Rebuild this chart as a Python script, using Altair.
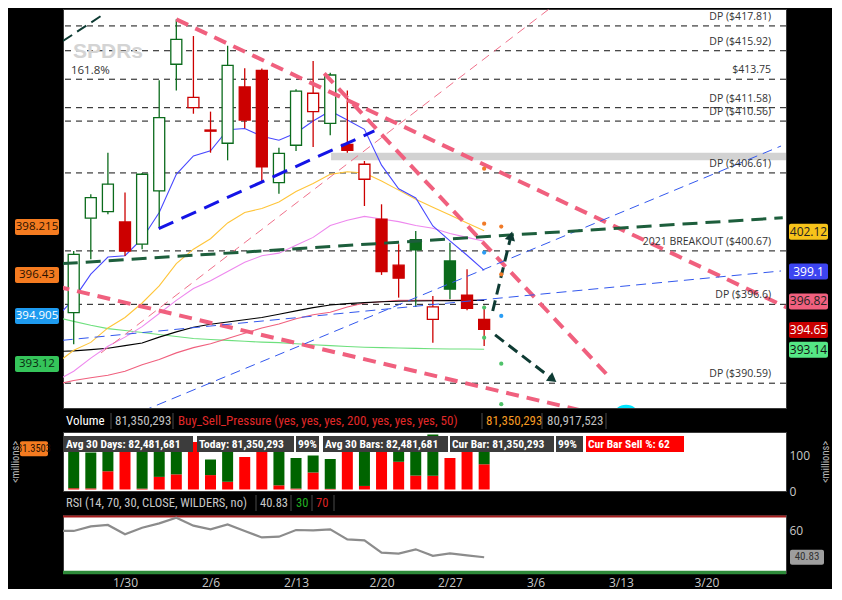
import altair as alt
import pandas as pd

# ---------------- data ----------------
dates = ["1/25", "1/26", "1/27", "1/30", "1/31", "2/1", "2/2", "2/3", "2/6", "2/7", "2/8", "2/9", "2/10",
         "2/13", "2/14", "2/15", "2/16", "2/17", "2/21", "2/22", "2/23", "2/24", "2/27", "2/28", "3/1"]
opens = [395.96, 403.16, 403.66, 402.87, 401.18, 405.24, 414.89, 411.58, 409.79, 408.87, 413.16, 414.42, 405.87,
         408.72, 411.28, 410.39, 408.79, 406.13, 403.08, 399.58, 401.53, 395.46, 399.90, 397.29, 395.46]
highs = [400.66, 404.98, 408.15, 405.11, 406.60, 413.67, 418.31, 417.04, 411.28, 416.30, 414.58, 414.57, 408.53,
         412.98, 415.14, 414.25, 412.90, 407.52, 404.22, 401.18, 402.19, 397.24, 401.30, 399.27, 396.50]
lows = [393.56, 400.03, 403.46, 400.28, 400.79, 402.44, 412.90, 411.12, 408.15, 407.57, 410.01, 405.87, 405.03,
        408.28, 408.59, 409.48, 408.15, 404.09, 398.84, 397.11, 396.40, 393.68, 396.98, 396.15, 393.43]
closes = [400.41, 404.73, 405.75, 400.66, 406.51, 410.82, 416.79, 412.37, 409.88, 414.81, 410.64, 407.08, 408.10,
          412.85, 412.68, 414.07, 408.33, 407.27, 399.09, 398.59, 400.74, 396.40, 397.75, 396.30, 394.70]

volumes_m = [84, 74, 76, 80, 87, 101, 101, 95, 60, 91, 65, 79, 76, 63, 68, 61, 84, 89, 83, 84, 96, 110, 63, 83, 81.35]
sell_pct = [3, 3, 48, 100, 2, 25, 30, 100, 48, 17, 100, 100, 11, 3, 50, 2, 100, 8, 100, 66, 29, 25, 100, 100, 62]

# indicator series: first value is the left edge (index -1), then one per bar
ema_fast = [395.6, 397.0, 398.9, 400.2, 400.3, 401.6, 403.6, 406.5, 407.9, 408.3, 409.9, 410.0, 409.4, 409.1,
            409.65, 410.57, 411.33, 410.64, 409.93, 407.2, 405.4, 404.7, 402.57, 401.43, 400.34, 399.19]
ema_yellow = [392.1, 393.1, 393.7, 394.8, 395.6, 396.7, 398.0, 399.7, 400.8, 401.6, 402.8, 403.6, 403.9, 404.4,
              405.2, 405.8, 406.5, 406.7, 406.6, 406.0, 405.3, 404.6, 404.0, 403.4, 402.8, 402.2]
ema_violet = [390.8, 391.5, 392.5, 393.4, 394.1, 394.9, 395.9, 396.9, 397.8, 398.4, 399.1, 399.8, 400.3, 400.5,
              401.1, 401.7, 402.6, 403.0, 403.3, 403.1, 402.9, 402.6, 402.4, 402.0, 401.7, 401.4]
ema_pink = [390.5, 390.8, 391.0, 391.2, 391.5, 392.0, 392.4, 392.9, 393.3, 393.6, 394.0, 394.4, 394.8, 395.1,
            395.5, 395.8, 396.0, 396.4, 396.7, 396.8, 396.9, 396.9, 396.9, 396.9, 396.9, 396.9]
sma_black = [393.0, 393.05, 393.15, 393.25, 393.45, 393.65, 394.1, 394.5, 394.85, 395.08, 395.25, 395.42, 395.6,
             395.84, 396.1, 396.35, 396.55, 396.65, 396.73, 396.8, 396.83, 396.85, 396.87, 396.88, 396.9, 396.9]
sma_green = [395.6, 395.3, 395.0, 394.75, 394.6, 394.45, 394.3, 394.15, 394.0, 393.92, 393.85, 393.78, 393.72,
             393.68, 393.6, 393.52, 393.45, 393.38, 393.33, 393.3, 393.27, 393.24, 393.22, 393.2, 393.19, 393.18]
rsi = [59.6, 59.6, 62.9, 63.9, 57.2, 61.9, 65.0, 69.1, 63.4, 60.8, 64.3, 59.6, 55.0, 55.5, 60.3, 60.0, 60.8,
       53.6, 52.9, 44.1, 43.4, 46.5, 41.9, 43.6, 42.2, 40.83]

dp_levels = [417.81, 415.92, 413.75, 411.58, 410.56, 406.61, 400.67, 396.6, 390.59]
dp_labels = ["DP ($417.81)", "DP ($415.92)", "$413.75", "DP ($411.58)", "DP ($410.56)", "DP ($406.61)",
             "2021 BREAKOUT ($400.67)", "DP ($396.6)", "DP ($390.59)"]

# drawn trend lines: name, start index, start price, end index, end price
trend_lines = [
    ("pink_top", 6.0, 418.31, 42.0, 396.17),
    ("pink_steep", 14.65, 414.2, 31.25, 391.15),
    ("pink_low", -1.0, 397.97, 31.0, 388.1),
    ("pink_thin", 1.6, 392.9, 29.0, 420.3),
    ("blue_thick", 4.97, 402.36, 17.58, 409.81),
    ("blue_steep", 4.0, 388.45, 41.36, 408.66),
    ("blue_flat", -0.64, 393.86, 41.36, 399.14),
    ("green_2021", -0.64, 399.70, 41.46, 403.20),
    ("arrow_up", 24.5, 396.09, 25.57, 401.81),
    ("arrow_down", 24.64, 394.27, 28.01, 390.89),
    ("arrow_old", -0.63, 416.66, 1.77, 418.72),
]

gray_zone = (15.05, 42.0, 407.57, 408.15)

proj_i = [24, 24, 24, 24, 24, 25, 25, 25, 25, 25]
proj_p = [406.93, 402.74, 400.54, 396.35, 394.06, 402.52, 398.89, 395.71, 392.08, 388.99]
proj_kind = ["o", "o", "b", "g", "g", "o", "o", "b", "g", "g"]

right_tags = [402.12, 399.1, 396.82, 394.65, 393.14]
right_tag_text = ["402.12", "399.1", "396.82", "394.65", "393.14"]
left_tags = [398.215, 396.43, 394.905, 393.12]
left_tag_text = ["398.215", "396.43", "394.905", "393.12"]

tick_idx = [3, 8, 13, 18, 22, 27, 32, 37]
tick_labels = ["1/30", "2/6", "2/13", "2/20", "2/27", "3/6", "3/13", "3/20"]

vol_boxes = ["Avg 30 Days: 82,481,681", "Today: 81,350,293", "99%", "Avg 30 Bars: 82,481,681",
             "Cur Bar: 81,350,293", "99%", "Cur Bar Sell %: 62"]
vol_header = ["Volume", "81,350,293", "Buy_Sell_Pressure (yes, yes, yes, 200, yes, yes, yes, 50)",
              "81,350,293", "80,917,523"]
rsi_header = ["RSI (14, 70, 30, CLOSE, WILDERS, no)", "40.83", "30", "70"]

# ---------------- styles / layout ----------------
FONT = "Open Sans"
NARROW = "Roboto Condensed, Noto Sans Condensed, Noto Sans CJK SC, Roboto, sans-serif"
GREEN = "#0b6b1c"
RED = "#cc0000"
W = 723


def lin(lo, hi):
    return alt.Scale(domain=[lo, hi], nice=False, zero=False, padding=0)


xS = lin(-0.626, 41.65)
yR = lin(388.70, 419.10)
yL = lin(391.478, 406.335)
vS = lin(-3, 115)
vS2 = lin(0, 166.7)
rS = lin(29.6, 71)

X = alt.X("i:Q", scale=xS, axis=None)


def one():
    return pd.DataFrame({"a": [0]})


def ptext(txt, x, y, color, size=12, align="left", weight="normal", font=FONT, angle=0, baseline="middle"):
    return alt.Chart(pd.DataFrame({"t": [txt]})).mark_text(
        align=align, baseline=baseline, color=color, fontSize=size, fontWeight=weight, font=font, angle=angle
    ).encode(x=alt.value(x), y=alt.value(y), text="t:N")


def prect(x0, x1, y0, y1, color):
    return alt.Chart(one()).mark_rect(color=color).encode(
        x=alt.value(x0), x2=alt.value(x1), y=alt.value(y0), y2=alt.value(y1))


def prule(x0, x1, y0, y1, color, width=1):
    return alt.Chart(one()).mark_rule(color=color, strokeWidth=width).encode(
        x=alt.value(x0), x2=alt.value(x1), y=alt.value(y0), y2=alt.value(y1))


def tag_boxes(df, field, scale, x0, x1, height, axis=None, color_field="bg:N", color=None):
    mk = alt.Chart(df).mark_bar(orient="horizontal", size=height, cornerRadius=2,
                                **({"color": color} if color else {}))
    enc = dict(x=alt.value(x0), x2=alt.value(x1), y=alt.Y(field, scale=scale, axis=axis))
    if not color:
        enc["color"] = alt.Color(color_field, scale=None)
    return mk.encode(**enc)


# ---------------- price panel ----------------
N = len(dates)
col = [GREEN if (k == 0 or closes[k] >= closes[k - 1]) else RED for k in range(N)]
cdf = pd.DataFrame({"i": list(range(N)), "o": opens, "h": highs, "l": lows, "c": closes, "col": col})
cdf["fillc"] = ["#ffffff" if c > o else cc for o, c, cc in zip(opens, closes, col)]

right_axis_vals = [390, 392.5, 397.5, 400, 405, 407.5, 410, 412.5, 415, 417.5]
dp_df = pd.DataFrame({"p": dp_levels, "lab": dp_labels})
dp_rules = alt.Chart(dp_df).mark_rule(color="#111111", strokeWidth=1, strokeDash=[6, 5]).encode(
    y=alt.Y("p:Q", scale=yR, axis=alt.Axis(orient="right", values=right_axis_vals,
                                            format=".1~f", labelPadding=3, title=None)))

band = alt.Chart(pd.DataFrame({"i0": [gray_zone[0]], "i1": [gray_zone[1]], "p0": [gray_zone[2]],
                               "p1": [gray_zone[3]]})).mark_rect(color="#d2d2d2", clip=True).encode(
    x=alt.X("i0:Q", scale=xS, axis=None), x2="i1:Q", y=alt.Y("p0:Q", scale=yR, axis=None), y2="p1:Q")

ind_i = list(range(-1, N))
rows = []
for name, vals, c in [("green", sma_green, "#6ee07e"), ("pink", ema_pink, "#f0607e"),
                      ("black", sma_black, "#000000"), ("violet", ema_violet, "#ee88ee"),
                      ("yellow", ema_yellow, "#ffc53a"), ("fast", ema_fast, "#4848ff")]:
    for i, v in zip(ind_i, vals):
        rows.append({"s": name, "i": i, "p": v, "col": c})
ind_df = pd.DataFrame(rows)
ind_lines = alt.Chart(ind_df).mark_line(strokeWidth=1.1, clip=True).encode(
    x=X, y=alt.Y("p:Q", scale=yR, axis=None), detail="s:N", color=alt.Color("col:N", scale=None))

wicks = alt.Chart(cdf).mark_rule(strokeWidth=1.3).encode(
    x=X, y=alt.Y("l:Q", scale=yR, axis=None), y2="h:Q", color=alt.Color("col:N", scale=None))
bodies = alt.Chart(cdf).mark_bar(size=11, strokeWidth=1.3).encode(
    x=X, y=alt.Y("o:Q", scale=yR, axis=None), y2="c:Q",
    fill=alt.Fill("fillc:N", scale=None), stroke=alt.Stroke("col:N", scale=None))

trend_style = {
    "pink_top": ("#f0607e", 4, [13, 8]), "pink_steep": ("#f0607e", 4, [13, 8]),
    "pink_low": ("#f0607e", 4, [13, 8]), "pink_thin": ("#f0708a", 1, [9, 6]),
    "blue_thick": ("#1414e6", 3, [16, 9]), "blue_steep": ("#3358ee", 1, [10, 6]),
    "blue_flat": ("#3358ee", 1, [10, 6]), "green_2021": ("#1d5e3c", 3, [15, 8]),
    "arrow_up": ("#0e3b33", 3, [11, 6]), "arrow_down": ("#0e3b33", 3, [11, 6]),
    "arrow_old": ("#0e3b33", 2, [11, 6]),
}
trend_layers = []
for name, i0, p0, i1, p1 in trend_lines:
    c, w, d = trend_style[name]
    tdf = pd.DataFrame({"i": [i0, i1], "p": [p0, p1]})
    trend_layers.append(alt.Chart(tdf).mark_line(color=c, strokeWidth=w, strokeDash=d, clip=True).encode(
        x=X, y=alt.Y("p:Q", scale=yR, axis=None)))

heads = []
for name, ang in [("arrow_up", 14), ("arrow_down", 127)]:
    t = [r for r in trend_lines if r[0] == name][0]
    hdf = pd.DataFrame({"i": [t[3]], "p": [t[4]]})
    heads.append(alt.Chart(hdf).mark_point(shape="triangle-up", filled=True, size=110, opacity=1,
                                           color="#0e3b33", angle=ang).encode(
        x=X, y=alt.Y("p:Q", scale=yR, axis=None)))

kind_col = {"o": "#f07a28", "b": "#2a9df4", "g": "#4fc26a"}
proj_df = pd.DataFrame({"i": proj_i, "p": proj_p, "col": [kind_col[k] for k in proj_kind]})
dots = alt.Chart(proj_df).mark_circle(size=18, opacity=1, clip=True).encode(
    x=X, y=alt.Y("p:Q", scale=yR, axis=None), color=alt.Color("col:N", scale=None))

dp_text = alt.Chart(dp_df).mark_text(align="right", baseline="middle", dy=-9, fontSize=10.5, font=FONT,
                                     color="#333333").encode(
    x=alt.value(708), y=alt.Y("p:Q", scale=yR, axis=None), text="lab:N")

fib = alt.Chart(pd.DataFrame({"i": [-0.16], "p": [414.35], "t": ["161.8%"]})).mark_text(
    align="left", baseline="middle", fontSize=11.5, font=FONT, color="#333333").encode(
    x=X, y=alt.Y("p:Q", scale=yR, axis=None), text="t:N")
spdr = ptext("SPDRs", 10, 43, "#d4d4d4", size=21, weight="bold", font="Liberation Sans")

blob = alt.Chart(pd.DataFrame({"i": [32.3], "p": [387.87]})).mark_circle(
    size=800, color="#00e5ff", opacity=1, clip=True).encode(x=X, y=alt.Y("p:Q", scale=yR, axis=None))

rt_df = pd.DataFrame({"p": right_tags, "t": right_tag_text,
                      "bg": ["#f7c31a", "#3d45f0", "#f0607e", "#c80000", "#55e685"],
                      "fg": ["#222222", "#ffffff", "#222222", "#ffffff", "#111111"]})
rt_box = tag_boxes(rt_df, "p:Q", yR, 726, 765, 16)
rt_text = alt.Chart(rt_df).mark_text(fontSize=12, font=FONT, baseline="middle").encode(
    x=alt.value(745.5), y=alt.Y("p:Q", scale=yR, axis=None), text="t:N", color=alt.Color("fg:N", scale=None))

right_layer = alt.layer(dp_rules, band, ind_lines, wicks, bodies, *trend_layers, *heads, dots, dp_text, fib,
                        spdr, blob, rt_box, rt_text)

lt_df = pd.DataFrame({"p": left_tags, "t": left_tag_text,
                      "bg": ["#f47b20", "#f47b20", "#1e9bf0", "#35c45a"],
                      "fg": ["#2a1200", "#2a1200", "#ffffff", "#0a2a10"]})
lt_box = tag_boxes(lt_df, "p:Q", yL, -48, -4, 16,
                   axis=alt.Axis(orient="left", values=list(range(392, 407, 2)), labelPadding=4, title=None))
lt_text = alt.Chart(lt_df).mark_text(fontSize=11.5, font=FONT, baseline="middle").encode(
    x=alt.value(-26), y=alt.Y("p:Q", scale=yL, axis=None), text="t:N", color=alt.Color("fg:N", scale=None))
anchor = prule(-54, -54, 0, 10, "#000000")
left_layer = alt.layer(lt_box, lt_text, anchor)

price = alt.layer(left_layer, right_layer).resolve_scale(y="independent").properties(width=W, height=399)

# ---------------- volume panel ----------------
vdf = pd.DataFrame({"i": list(range(N)), "vol": volumes_m, "pct": sell_pct})
vdf["sell"] = vdf["vol"] * vdf["pct"] / 100.0
vdf["base"] = 0.0
red_bars = alt.Chart(vdf).mark_bar(size=11, color="#ff0000").encode(
    x=X, y=alt.Y("base:Q", scale=vS, axis=alt.Axis(orient="left", values=[0, 50, 100], labelPadding=4, title=None)),
    y2="sell:Q")
green_bars = alt.Chart(vdf).mark_bar(size=11, color="#006400").encode(
    x=X, y=alt.Y("sell:Q", scale=vS, axis=None), y2="vol:Q")

box_x = [(1, 130), (134, 231), (233, 256), (260, 385), (387, 491), (493, 520), (523, 621)]
box_layers = []
for k, (t, (x0, x1)) in enumerate(zip(vol_boxes, box_x)):
    bg = "#ff0000" if k == len(vol_boxes) - 1 else "#3c3c3c"
    box_layers.append(prect(x0, x1, 4, 20, bg))
    box_layers.append(ptext(t, x0 + 2, 12.5, "#ffffff", size=11.5, weight="bold", font=NARROW))

vh_x = [3, 52, 115, 423, 484]
vh_col = ["#ffffff", "#c0c0c0", "#e02828", "#f59a23", "#c0c0c0"]
vh_layers = [ptext(t, x, -11, c, size=13, font=NARROW) for t, x, c in zip(vol_header, vh_x, vh_col)]
vh_layers += [prule(s, s, -19, -3, "#4a4a4a") for s in [48, 110, 419, 479, 543]]

vtag_df = pd.DataFrame({"v": [81.35], "t": ["81.3503"]})
vtag_box = tag_boxes(vtag_df, "v:Q", vS, -43, -15, 15, color="#f47b20")
vtag_text = alt.Chart(vtag_df).mark_text(fontSize=10.5, font=NARROW, color="#2a1200", baseline="middle").encode(
    x=alt.value(-29), y=alt.Y("v:Q", scale=vS, axis=None), text="t:N")
mill_l = ptext("<millions>", -47.5, 30, "#b8b8b8", size=10.5, align="center", angle=270, font=NARROW)
mill_r = ptext("<millions>", 763, 30, "#b8b8b8", size=10.5, align="center", angle=270, font=NARROW)

vol_main = alt.layer(red_bars, green_bars, *box_layers, *vh_layers, vtag_box, vtag_text, mill_l, mill_r)
vol_dummy = alt.Chart(pd.DataFrame({"v": [0.0]})).mark_point(opacity=0).encode(
    x=alt.value(0),
    y=alt.Y("v:Q", scale=vS2, axis=alt.Axis(orient="right", values=[0, 100], labelPadding=3, title=None)))
vol = alt.layer(vol_main, vol_dummy).resolve_scale(y="independent").properties(width=W, height=59)

# ---------------- RSI panel ----------------
label_expr = " : ".join([f"datum.value == {t} ? '{l}'" for t, l in zip(tick_idx, tick_labels)]) + " : ''"
rsi_df = pd.DataFrame({"i": ind_i, "r": rsi})
r70 = alt.Chart(pd.DataFrame({"v": [70]})).mark_rule(color="#a51d1d", strokeWidth=2).encode(
    y=alt.Y("v:Q", scale=rS, axis=alt.Axis(orient="left", values=[40, 60], labelPadding=4, title=None)))
r30 = alt.Chart(pd.DataFrame({"v": [30]})).mark_rule(color="#2e8b3a", strokeWidth=3.5).encode(
    y=alt.Y("v:Q", scale=rS, axis=None))
rsi_line = alt.Chart(rsi_df).mark_line(color="#8c8c8c", strokeWidth=2.2, clip=True).encode(
    x=alt.X("i:Q", scale=xS, axis=alt.Axis(orient="bottom", values=tick_idx, labelExpr=label_expr,
                                           labelPadding=4, labelFlush=False, title=None)),
    y=alt.Y("r:Q", scale=rS, axis=None))
rtag_df = pd.DataFrame({"v": [rsi[-1]], "t": ["40.83"]})
rtag_box = tag_boxes(rtag_df, "v:Q", rS, 727, 761, 15, color="#9e9e9e")
rtag_text = alt.Chart(rtag_df).mark_text(fontSize=11, font=NARROW, color="#333333", baseline="middle").encode(
    x=alt.value(744), y=alt.Y("v:Q", scale=rS, axis=None), text="t:N")
rh_x = [3, 197, 233, 253]
rh_col = ["#c8c8c8", "#c8c8c8", "#22b022", "#dd2222"]
rh_layers = [ptext(t, x, -12, c, size=12.5, font=NARROW) for t, x, c in zip(rsi_header, rh_x, rh_col)]
rh_layers += [prule(s, s, -20, -4, "#4a4a4a") for s in [193, 228, 249, 271]]

rsi_main = alt.layer(r70, r30, rsi_line, rtag_box, rtag_text, *rh_layers)
rsi_dummy = alt.Chart(pd.DataFrame({"v": [50.0]})).mark_point(opacity=0).encode(
    x=alt.value(0),
    y=alt.Y("v:Q", scale=rS, axis=alt.Axis(orient="right", values=[60], labelPadding=3, title=None)))
rsi_panel = alt.layer(rsi_main, rsi_dummy).resolve_scale(y="independent").properties(width=W, height=58)

chart = alt.vconcat(price, vol, rsi_panel, spacing=24, bounds="flush").properties(
    padding=0, background="#000000"
).configure_view(fill="#ffffff", stroke="#3a3a3a", strokeWidth=1).configure_axis(
    domain=False, ticks=False, grid=False, labelColor="#c8c8c8", labelFont=FONT, labelFontSize=12
)

chart.save("out.html", embed_options={"renderer": "svg", "actions": False})
